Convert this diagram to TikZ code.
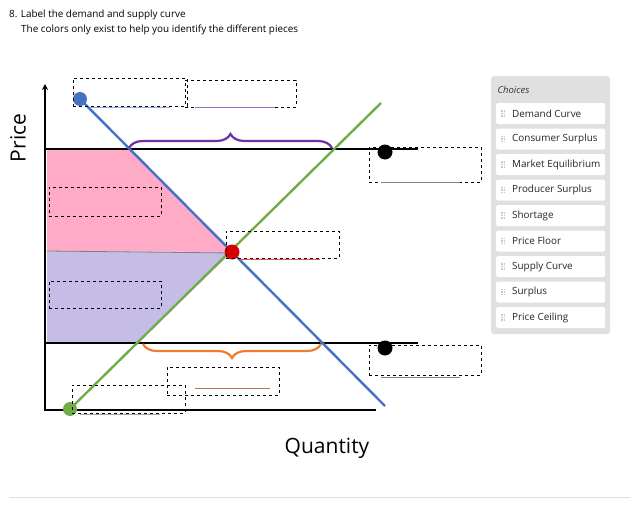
\documentclass[tikz,border=0pt]{standalone}
\usepackage{fontspec}
\setmainfont{Open Sans}
\usetikzlibrary{decorations.pathreplacing,arrows.meta}
\definecolor{dblue}{HTML}{4472C4}
\definecolor{sgreen}{HTML}{70AD47}
\definecolor{pinkf}{HTML}{FFABC8}
\definecolor{lavf}{HTML}{C5BDE6}
\definecolor{purp}{HTML}{7030A0}
\definecolor{orng}{HTML}{ED7D31}
\definecolor{panel}{HTML}{E0E0E0}
\begin{document}
\begin{tikzpicture}[x=1pt,y=-1pt,
  box/.style={draw,dashed,line width=0.7pt},
  item/.style={fill=white,rounded corners=1.5pt},
  itxt/.style={anchor=west,font=\fontsize{9.9}{11}\selectfont,text=black!85},
  ul/.style={line width=0.8pt}]
\useasboundingbox (0,0) rectangle (643,514);
\fill[white] (0,0) rectangle (643,514);
\node[anchor=west,inner sep=0,font=\fontsize{9.9}{11}\selectfont] (t1) at (9,15) {8. Label the demand and supply curve};
\node[anchor=west,inner sep=0,font=\fontsize{9.9}{11}\selectfont] (t2) at (21,30) {The colors only exist to help you identify the different pieces};
% regions
\fill[pinkf] (47,150) -- (131,150) -- (232,252) -- (47,251) -- cycle;
\fill[lavf] (47,251) -- (232,252) -- (137,343) -- (47,343) -- cycle;
\draw[gray,line width=0.8pt] (47,251) -- (232,253);
% axes
\coordinate (ytop) at (45,84);
\coordinate (xend) at (376,410);
\draw[line width=2.4pt,-{Stealth[length=6pt,width=6pt]}] (45,411) -- (ytop);
\draw[line width=2.4pt] (44,410) -- (xend);
\node[rotate=90,font=\fontsize{21}{21}\selectfont] (py) at (18,138) {Price};
\node[font=\fontsize{21}{21}\selectfont] (qx) at (327,448) {Quantity};
% horizontal lines
\coordinate (h1a) at (45,149); \coordinate (h1b) at (418,149);
\coordinate (h2a) at (45,343); \coordinate (h2b) at (418,343);
\draw[line width=2.4pt] (h1a) -- (h1b);
\draw[line width=2.4pt] (h2a) -- (h2b);
\node[circle,fill=black,inner sep=0,minimum size=15pt] (b1) at (385,152) {};
\node[circle,fill=black,inner sep=0,minimum size=15pt] (b2) at (385,348) {};
% curves
\node[circle,fill=dblue,inner sep=0,minimum size=14pt] (dd) at (80,99) {};
\coordinate (dend) at (385,406);
\draw[dblue,line width=2.4pt] (dd.center) -- (dend);
\node[circle,fill=sgreen,inner sep=0,minimum size=14pt] (sd) at (70,409) {};
\coordinate (send) at (381,103);
\draw[sgreen,line width=2.4pt] (sd.center) -- (send);
\node[circle,fill=red!85!black,inner sep=0,minimum size=15pt] (eq) at (232,252) {};
% braces
\draw[purp,line width=2.2pt,decorate,decoration={brace,amplitude=14pt,aspect=0.5}] (129,148) -- (332,148);
\draw[orng,line width=2.2pt,decorate,decoration={brace,amplitude=14pt,mirror}] (143,344) -- (321,344);
% boxes
\node[box,minimum width=114pt,minimum height=28pt] (x1) at (130,92) {};
\node[box,minimum width=111pt,minimum height=27pt] (x2) at (240.5,93.5) {};
\node[box,minimum width=112pt,minimum height=35pt] (x3) at (425,164.5) {};
\node[box,minimum width=112pt,minimum height=29pt] (x4) at (105,201.5) {};
\node[box,minimum width=113pt,minimum height=27pt] (x5) at (282.5,244.5) {};
\node[box,minimum width=112pt,minimum height=27pt] (x6) at (105,294.5) {};
\node[box,minimum width=112pt,minimum height=30pt] (x7) at (425,360) {};
\node[box,minimum width=112pt,minimum height=28pt] (x8) at (223,381) {};
\node[box,minimum width=113pt,minimum height=28pt] (x9) at (128.5,399) {};
% underlines
\draw[ul,dblue!60] (90,107) -- (170,107);
\draw[ul,purp!70] (195,107) -- (275,107);
\draw[ul,gray] (381,182) -- (460,182);
\draw[ul,red!70] (240,259) -- (320,259);
\draw[ul,gray] (381,377) -- (460,377);
\draw[ul,orng!50!gray] (195,388) -- (270,388);
\draw[ul,gray!70] (80,414) -- (160,414);
% choices
\fill[panel,rounded corners=3pt] (491,76) rectangle (610,334);
\node[anchor=west,font=\itshape\fontsize{9.5}{10}\selectfont,text=black!80] (ch) at (494,90) {Choices};
\foreach \t [count=\i] in {Demand Curve,Consumer Surplus,Market Equilibrium,Producer Surplus,Shortage,Price Floor,Supply Curve,Surplus,Price Ceiling}{
  \pgfmathsetmacro{\yy}{103+(\i-1)*25.5}
  \fill[item] (496,\yy) rectangle (605,\yy+21);
  \foreach \a in {0,1,2}{\foreach \b in {0,1}{\fill[gray!45] (501+\b*2.5,\yy+7+\a*2.5) rectangle ++(1.6,1.6);}}
  \node[itxt,inner sep=0] (c\i) at (512,\yy+10.5) {\t};
}
\draw[gray!25,line width=0.8pt] (9,497) -- (630,497);
\end{tikzpicture}
\end{document}
